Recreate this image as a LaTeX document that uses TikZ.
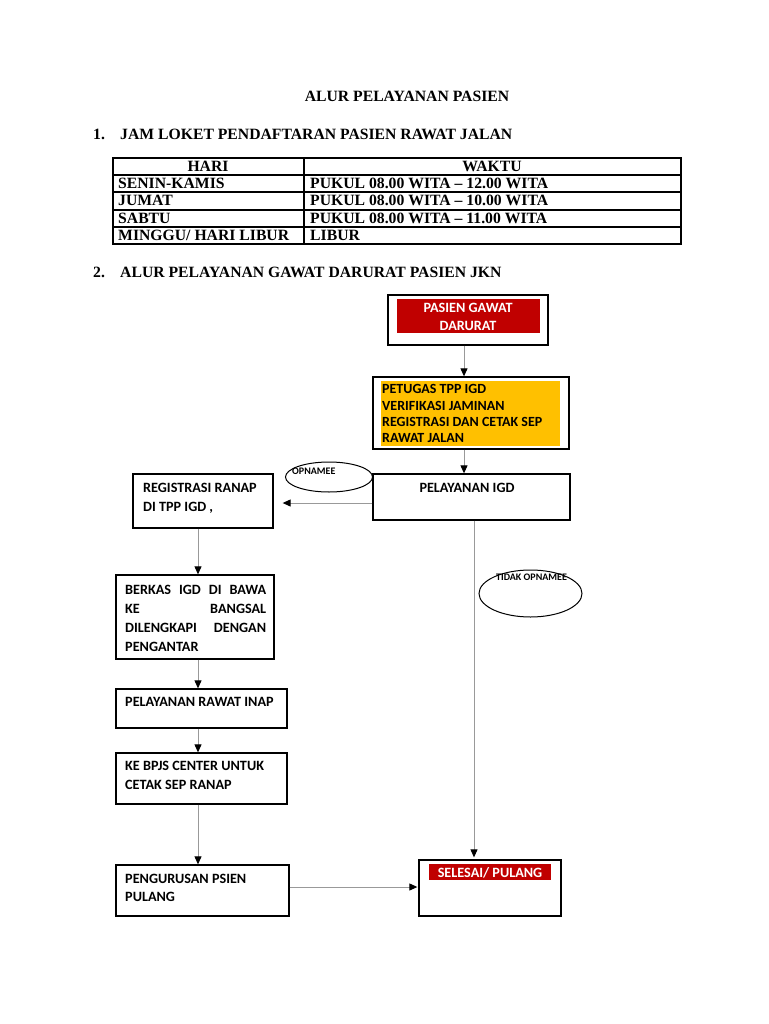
\documentclass[tikz,border=0pt]{standalone}
\usepackage{fontspec}
\setmainfont{Liberation Serif}
\newfontfamily\calfont{Carlito}
\usetikzlibrary{arrows.meta,shapes.geometric,calc}
\definecolor{boxred}{HTML}{C00000}
\definecolor{boxorange}{HTML}{FFC000}
\begin{document}
\begin{tikzpicture}[x=1pt,y=-1pt,
 hd/.style={font=\bfseries\fontsize{15.7}{18}\selectfont, inner sep=0, anchor=base west},
 box/.style={draw=black, line width=1.3pt, rectangle, inner sep=0},
 lbl/.style={font=\calfont\bfseries\fontsize{14.2}{18.5}\selectfont, inner sep=0, anchor=north west, align=left},
 conn/.style={draw=black!40, line width=1pt, -{Triangle[length=8pt,width=7pt,color=black]}},
 oval/.style={draw=black, ellipse, line width=1pt, inner sep=0},
 small/.style={font=\calfont\bfseries\fontsize{10}{12}\selectfont, inner sep=0, anchor=west},
 tline/.style={line width=1.1pt}
]
\useasboundingbox (0,0) rectangle (768,1024);
\fill[white] (0,0) rectangle (768,1024);

% headings
\node[hd, anchor=base] (title) at (407,102) {ALUR PELAYANAN PASIEN};
\node[hd] (n1) at (93,140) {1.};
\node[hd] (h1) at (120,140) {JAM LOKET PENDAFTARAN PASIEN RAWAT JALAN};
\node[hd] (n2) at (93,277) {2.};
\node[hd] (h2) at (120,277) {ALUR PELAYANAN GAWAT DARURAT PASIEN JKN};

% table
\draw[tline] (113,158) rectangle (681,244);
\draw[tline] (304,158) -- (304,244);
\foreach \yy in {175,192,210,227} \draw[tline] (113,\yy) -- (681,\yy);
\node[hd, anchor=base] (thari) at (208,171.5) {HARI};
\node[hd, anchor=base] (twaktu) at (492,171.5) {WAKTU};
\node[hd] (r1a) at (118,189) {SENIN-KAMIS};
\node[hd] (r1b) at (310,189) {PUKUL 08.00 WITA -- 12.00 WITA};
\node[hd] (r2a) at (118,206) {JUMAT};
\node[hd] (r2b) at (310,206) {PUKUL 08.00 WITA -- 10.00 WITA};
\node[hd] (r3a) at (118,223.5) {SABTU};
\node[hd] (r3b) at (310,223.5) {PUKUL 08.00 WITA -- 11.00 WITA};
\node[hd] (r4a) at (118,240.5) {MINGGU/ HARI LIBUR};
\node[hd] (r4b) at (310,240.5) {LIBUR};

% flowchart boxes
\node[box, minimum width=160, minimum height=50] (b1) at (468,320) {};
\node[box, minimum width=196, minimum height=72] (b2) at (471,413) {};
\node[box, minimum width=197, minimum height=46] (b3) at (471.5,497) {};
\node[box, minimum width=140, minimum height=54] (b4) at (203,501) {};
\node[box, minimum width=158, minimum height=84] (b5) at (195,617) {};
\node[box, minimum width=171, minimum height=39] (b6) at (201.5,708.5) {};
\node[box, minimum width=171, minimum height=51] (b7) at (201.5,778.5) {};
\node[box, minimum width=173, minimum height=51] (b8) at (202.5,890.5) {};
\node[box, minimum width=142, minimum height=56] (b9) at (490,888) {};

% highlight fills
\fill[boxred] (397,299) rectangle (540,333);
\fill[boxorange] (381,381) rectangle (560,446);
\fill[boxred] (429,864) rectangle (551,880);

% box texts
\node[lbl, anchor=north, align=center, text=white, font=\calfont\bfseries\fontsize{14.2}{18}\selectfont] (t1) at (468,302.5) {PASIEN GAWAT\\DARURAT};
\node[lbl, font=\calfont\bfseries\fontsize{14}{16.3}\selectfont] (t2) at (382,384.5) {PETUGAS TPP IGD\\VERIFIKASI JAMINAN\\REGISTRASI DAN CETAK SEP\\RAWAT JALAN};
\node[lbl, anchor=north] (t3) at (467,482.5) {PELAYANAN IGD};
\node[lbl, font=\calfont\bfseries\fontsize{14.2}{19}\selectfont] (t4) at (143,482.5) {REGISTRASI RANAP\\DI TPP IGD ,};
\node[lbl, font=\calfont\bfseries\fontsize{14.2}{19}\selectfont] (t5) at (125,584.5) {\makebox[141pt][s]{BERKAS IGD DI BAWA}\\\makebox[141pt][s]{KE BANGSAL}\\\makebox[141pt][s]{DILENGKAPI DENGAN}\\PENGANTAR};
\node[lbl] (t6) at (125,697.5) {PELAYANAN RAWAT INAP};
\node[lbl, font=\calfont\bfseries\fontsize{14.2}{19}\selectfont] (t7) at (125,760.5) {KE BPJS CENTER UNTUK\\CETAK SEP RANAP};
\node[lbl, font=\calfont\bfseries\fontsize{14.2}{18}\selectfont] (t8) at (125,873.5) {PENGURUSAN PSIEN\\PULANG};
\node[lbl, anchor=north, text=white] (t9) at (490,867.5) {SELESAI/ PULANG};

% ellipses
\node[oval, minimum width=87, minimum height=30] (e1) at (329,477) {};
\node[small] (e1t) at (292,471) {OPNAMEE};
\node[oval, minimum width=103, minimum height=47] (e2) at (530.5,593.5) {};
\node[small] (e2t) at (496,577.5) {TIDAK OPNAMEE};

% connectors
\coordinate (cA) at (464,0);
\coordinate (cL) at (198,0);
\coordinate (cV) at (474,0);
\coordinate (hA) at (0,503);
\coordinate (hB) at (0,887);
\draw[conn] (cA |- b1.south) -- (cA |- b2.north);
\draw[conn] (cA |- b2.south) -- (cA |- b3.north);
\draw[conn] (b3.west |- hA) -- ([xshift=9pt]b4.east |- hA);
\draw[conn] (cL |- b4.south) -- (cL |- b5.north);
\draw[conn] (cL |- b5.south) -- (cL |- b6.north);
\draw[conn] (cL |- b6.south) -- (cL |- b7.north);
\draw[conn] (cL |- b7.south) -- (cL |- b8.north);
\draw[conn] (b8.east |- hB) -- ([xshift=-1pt]b9.west |- hB);
\draw[conn] (cV |- b3.south) -- ([yshift=2pt]cV |- b9.north);
\end{tikzpicture}
\end{document}
